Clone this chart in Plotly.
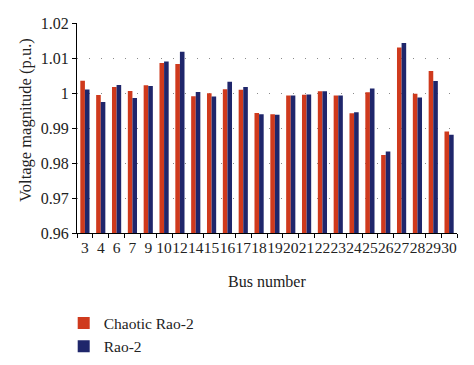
import plotly.graph_objects as go

buses = ["3", "4", "6", "7", "9", "10", "12", "14", "15", "16", "17", "18",
         "19", "20", "21", "22", "23", "24", "25", "26", "27", "28", "29", "30"]
chaotic_rao2 = [1.0035, 0.9994, 1.0017, 1.0006, 1.0022, 1.0086, 1.0083, 0.9991,
                0.9999, 1.0011, 1.0009, 0.9943, 0.9939, 0.9993, 0.9995, 1.0005,
                0.9993, 0.9942, 1.0002, 0.9823, 1.0130, 0.9998, 1.0063, 0.9890]
rao2 = [1.0010, 0.9974, 1.0023, 0.9986, 1.0020, 1.0090, 1.0118, 1.0003,
        0.9990, 1.0032, 1.0017, 0.9939, 0.9938, 0.9993, 0.9996, 1.0005,
        0.9993, 0.9945, 1.0013, 0.9833, 1.0143, 0.9987, 1.0034, 0.9881]
y_ticks = [0.96, 0.97, 0.98, 0.99, 1.00, 1.01, 1.02]
y_tick_text = ["0.96", "0.97", "0.98", "0.99", "1", "1.01", "1.02"]

RED = "#CF3A1D"
BLUE = "#1F266B"
FONT = "Liberation Serif"
TXT = "#222222"

fig = go.Figure()
fig.add_trace(go.Bar(x=buses, y=chaotic_rao2, name="Chaotic Rao-2",
                     marker=dict(color=RED, line=dict(width=0)), base=0))
fig.add_trace(go.Bar(x=buses, y=rao2, name="Rao-2",
                     marker=dict(color=BLUE, line=dict(width=0)), base=0))

fig.update_layout(
    width=474, height=365,
    margin=dict(l=77, r=17, t=23, b=132, autoexpand=False),
    paper_bgcolor="white", plot_bgcolor="white",
    barmode="group", bargap=0.42, bargroupgap=0.0,
    font=dict(family=FONT, size=15, color=TXT),
    showlegend=True,
    legend=dict(x=-0.035, y=-0.35, xanchor="left", yanchor="top",
                orientation="v", font=dict(family=FONT, size=15.5, color=TXT),
                itemwidth=30, tracegroupgap=0, bgcolor="rgba(0,0,0,0)"),
    xaxis=dict(type="category", tickmode="array", tickvals=buses, ticktext=buses,
               showline=True, linecolor="black", linewidth=1,
               ticks="outside", ticklen=4, tickcolor="black", tickson="boundaries",
               showgrid=False, tickfont=dict(family=FONT, size=15.5, color=TXT),
               tickangle=0),
    yaxis=dict(range=[0.96, 1.02], tickvals=y_ticks, ticktext=y_tick_text,
               showline=True, linecolor="black", linewidth=1,
               ticks="outside", ticklen=4, tickcolor="black",
               showgrid=True, gridcolor="#8a8a8a", griddash="1px,11px", gridwidth=1.2,
               zeroline=False, tickfont=dict(family=FONT, size=16, color=TXT)),
    annotations=[
        dict(text="Bus number", x=0.5, y=-0.229, xref="paper", yref="paper",
             xanchor="center", yanchor="middle", showarrow=False,
             font=dict(family=FONT, size=16, color=TXT)),
        dict(text="Voltage magnitude (p.u.)", x=-0.137, y=0.538, xref="paper", yref="paper",
             xanchor="center", yanchor="middle", showarrow=False, textangle=-90,
             font=dict(family=FONT, size=16.5, color=TXT)),
    ],
)

fig.write_html("out.html")
